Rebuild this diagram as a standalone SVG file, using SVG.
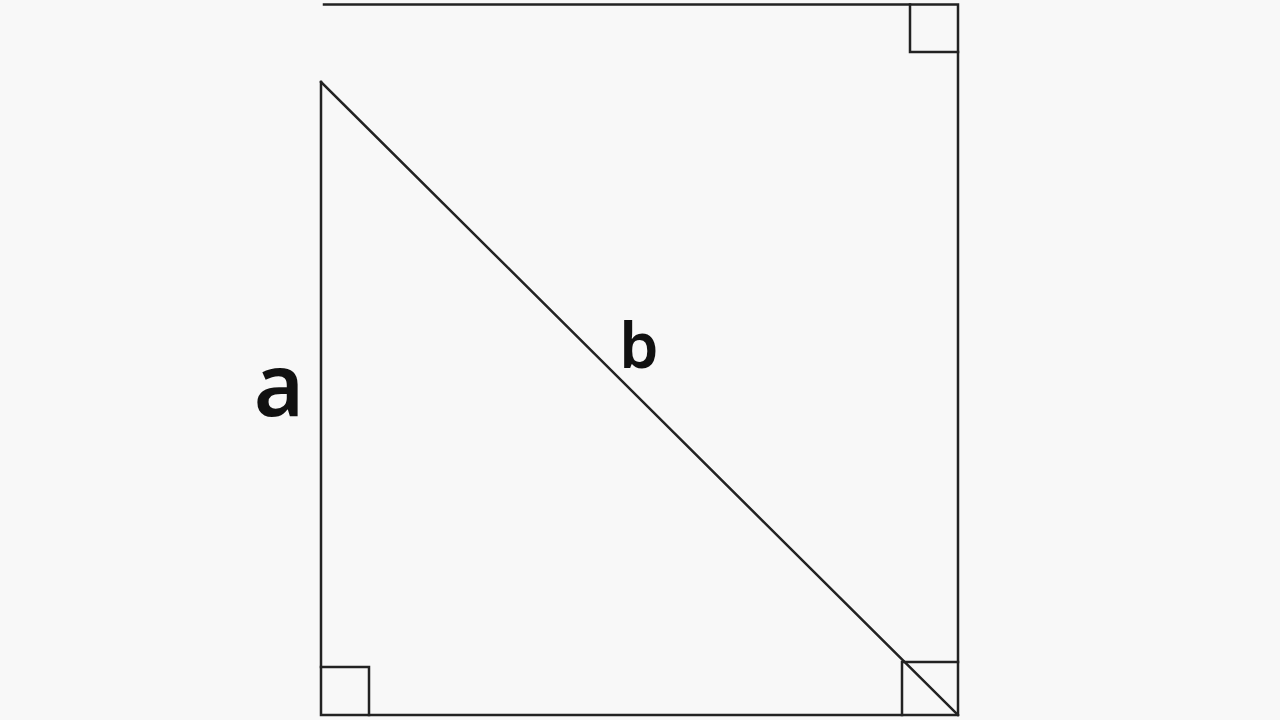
<svg xmlns="http://www.w3.org/2000/svg" width="1280" height="720" viewBox="0 0 1280 720">
<style>
.ln{stroke:#222;stroke-width:2.5;fill:none;stroke-linecap:square}
.lbl{font-family:"Noto Sans","Open Sans",sans-serif;font-weight:600;fill:#111}
</style>
<rect width="1280" height="720" fill="#f8f8f8"/>
<g id="frame">
<polyline class="ln" points="324,4.5 958,4.5 958,715 321,715 321,82"/>
</g>
<g id="connectors">
<line class="ln" x1="321" y1="82" x2="958" y2="715"/>
</g>
<g id="right-angles">
<polyline class="ln" points="910,4.5 910,52 958,52"/>
<polyline class="ln" points="321,667 369,667 369,715"/>
<polyline class="ln" points="902,715 902,662 958,662"/>
</g>
<g id="label-a"><text class="lbl" x="279" y="416" font-size="86" text-anchor="middle">a</text></g>
<g id="label-b"><text class="lbl" x="639" y="368" font-size="63" text-anchor="middle">b</text></g>
</svg>
